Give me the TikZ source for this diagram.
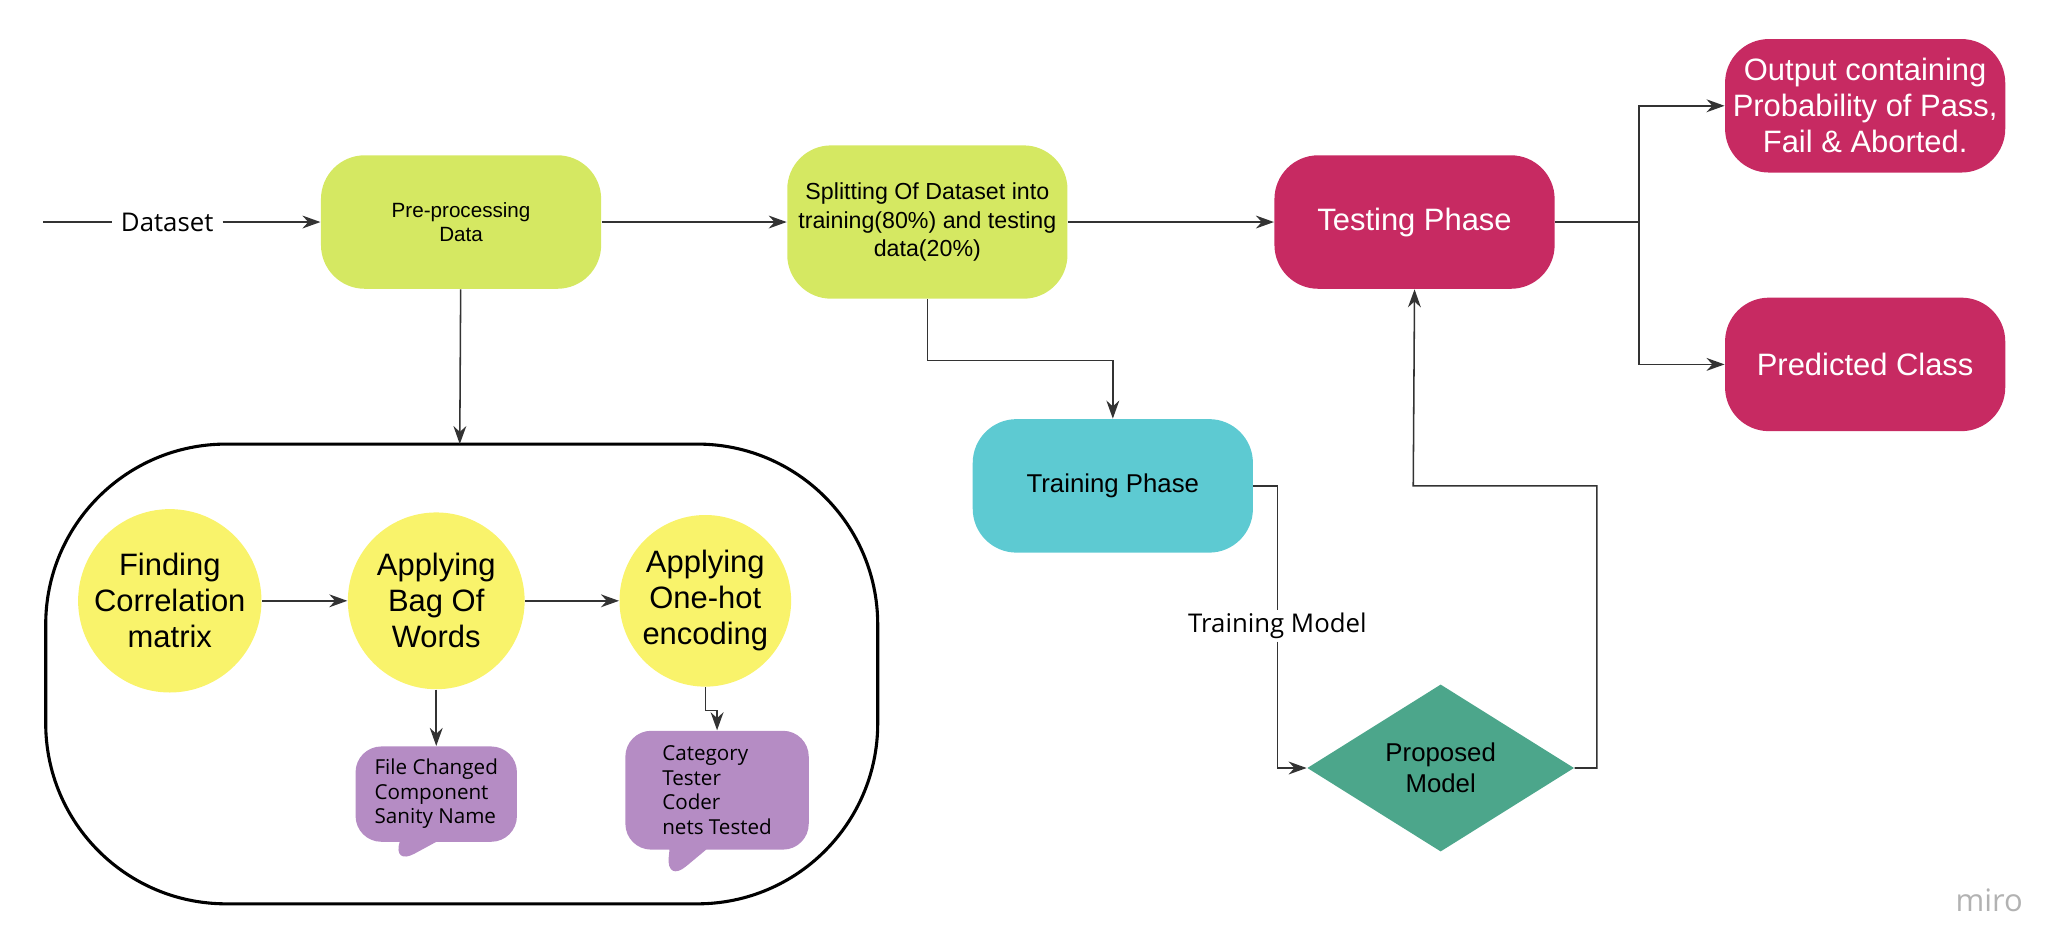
\documentclass[tikz,border=0pt]{standalone}
\usepackage{fontspec}
\setmainfont{Liberation Sans}
\newfontfamily\labelfont{Open Sans}
\usetikzlibrary{shapes.geometric,shapes.callouts,arrows.meta}
\definecolor{limebox}{HTML}{D5E862}
\definecolor{testred}{HTML}{C72A62}
\definecolor{traincyan}{HTML}{5DCAD2}
\definecolor{modelgreen}{HTML}{4CA68B}
\definecolor{circyellow}{HTML}{F9F36B}
\definecolor{notepurple}{HTML}{B58CC4}

\tikzset{
  box/.style={rectangle,rounded corners=17pt,minimum width=3.82cm,minimum height=1.82cm,align=center,inner sep=2pt},
  stage/.style={circle,fill=circyellow,minimum size=2.41cm,align=center,inner sep=0pt,font=\large},
  note/.style={rectangle callout,fill=notepurple,rounded corners=10pt,align=left,font=\labelfont\footnotesize,callout pointer width=0.5cm},
  conn/.style={draw=black!80,line width=0.6pt,-{Stealth[length=7pt,width=5pt]}},
  line/.style={draw=black!80,line width=0.6pt},
}

\begin{document}
\begin{tikzpicture}[x=0.0178cm,y=-0.0178cm]
\useasboundingbox (0,0) rectangle (1568,717);
\coordinate (start) at (33,170);
\node[font=\labelfont\normalsize] (data) at (128,170) {Dataset};
\node[box,fill=limebox,font=\footnotesize] (pre) at (353,170) {Pre-processing\\Data};
\node[box,fill=limebox,minimum height=2.09cm,font=\small] (split) at (710,170) {Splitting Of Dataset into\\training(80\%) and testing\\data(20\%)};
\node[box,fill=testred,text=white,font=\large] (test) at (1083,170) {Testing Phase};
\node[box,fill=testred,text=white,font=\large] (out) at (1428,81) {Output containing\\Probability of Pass,\\Fail \& Aborted.};
\node[box,fill=testred,text=white,font=\large] (pred) at (1428,279) {Predicted Class};
\node[box,fill=traincyan] (train) at (852,372) {Training Phase};
\node[diamond,fill=modelgreen,minimum width=3.64cm,minimum height=2.28cm,inner sep=0pt,align=center] (model) at (1103,588) {Proposed\\Model};
\node[font=\labelfont\normalsize,fill=white,inner sep=1pt] (tmodel) at (978,479) {Training Model};

\draw[line width=1.2pt,rounded corners=70pt] (35,340) rectangle (672,692);
\coordinate (group) at (352,340);
\node[stage,minimum size=2.5cm] (corr) at (130,460) {Finding\\Correlation\\matrix};
\node[stage] (bag) at (334,460) {Applying\\Bag Of\\Words};
\node[stage,minimum size=2.34cm] (hot) at (540,460) {Applying\\One-hot\\encoding};
\node[note,minimum width=2.2cm,minimum height=1.3cm,callout absolute pointer={(300,663)}] (notea) at (334,608) {File Changed\\Component\\Sanity Name};
\node[note,minimum width=2.5cm,minimum height=1.62cm,callout absolute pointer={(510,676)}] (noteb) at (549,605) {Category\\Tester\\Coder\\nets Tested};
\node[text=black!30,font=\labelfont\large] (miro) at (1523,689) {miro};

\draw[line] (start) -- (data);
\draw[conn] (data) -- (pre);
\draw[conn] (pre) -- (split);
\draw[conn] (split) -- (test);
\draw[line] (test.east) -- (1255,170);
\draw[conn] (1255,170) |- (out.west);
\draw[conn] (1255,170) |- (pred.west);
\draw[conn] (pre) -- (group);
\draw[conn] (corr) -- (bag);
\draw[conn] (bag) -- (notea.north);
\draw[conn] (bag) -- (hot);
\draw[conn] (hot.south) -- ++(0,18) -| (noteb.north);
\draw[conn] (split.south) -- ++(0,47) -| (train.north);
\draw[line] (train.east) -| (tmodel.north);
\draw[conn] (tmodel.south) |- (model.west);
\draw[conn] (model.east) -- ++(17,0) |- (1082,372) -- (test.south);
\end{tikzpicture}
\end{document}
